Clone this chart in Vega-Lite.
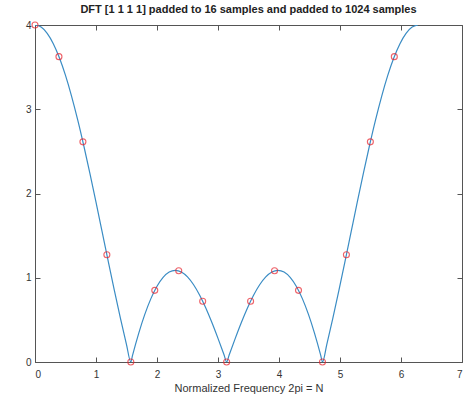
{
  "$schema": "https://vega.github.io/schema/vega-lite/v6.json",
  "width": 427,
  "height": 337,
  "autosize": "none",
  "padding": {"left": 35, "top": 25, "right": 12, "bottom": 36},
  "background": "white",
  "config": {
    "font": "Liberation Sans",
    "view": {"stroke": "#555555", "strokeWidth": 1},
    "axis": {"grid": false, "domainColor": "#555555", "tickColor": "#555555", "labelColor": "#333333", "labelFontSize": 10, "tickSize": -5, "titleFontWeight": "normal", "titleFontSize": 11, "titleColor": "#333333"}
  },
  "title": {"text": "DFT [1 1 1 1] padded to 16 samples and padded to 1024 samples", "fontSize": 11, "fontWeight": "bold", "color": "#222222", "offset": 5, "anchor": "middle"},
  "datasets": {
    "curve": [
      {"w": 0, "m": 4}, {"w": 0.1, "m": 3.975}, {"w": 0.2, "m": 3.9007}, {"w": 0.3, "m": 3.7784}, {"w": 0.4, "m": 3.6108}, {"w": 0.5, "m": 3.4013}, {"w": 0.6, "m": 3.1539}, {"w": 0.7, "m": 2.8739}, {"w": 0.8, "m": 2.5668}, {"w": 0.9, "m": 2.2389}, {"w": 1.0, "m": 1.8966}, {"w": 1.1, "m": 1.5468}, {"w": 1.2, "m": 1.1963}, {"w": 1.3, "m": 0.8518}, {"w": 1.4, "m": 0.52}, {"w": 1.5, "m": 0.207}, {"w": 1.5708, "m": 0}, {"w": 1.6, "m": 0.0814}, {"w": 1.7, "m": 0.3401}, {"w": 1.8, "m": 0.5649}, {"w": 1.9, "m": 0.7522}, {"w": 2.0, "m": 0.8994}, {"w": 2.1, "m": 1.0048}, {"w": 2.2, "m": 1.0678}, {"w": 2.3, "m": 1.0887}, {"w": 2.4, "m": 1.0688}, {"w": 2.5, "m": 1.0105}, {"w": 2.6, "m": 0.9169}, {"w": 2.7, "m": 0.792}, {"w": 2.8, "m": 0.6406}, {"w": 2.9, "m": 0.468}, {"w": 3.0, "m": 0.2801}, {"w": 3.1, "m": 0.0831}, {"w": 3.1416, "m": 0},
      {"w": 3.183, "m": 0.0831}, {"w": 3.283, "m": 0.2801}, {"w": 3.383, "m": 0.468}, {"w": 3.483, "m": 0.6406}, {"w": 3.583, "m": 0.792}, {"w": 3.683, "m": 0.9169}, {"w": 3.783, "m": 1.0105}, {"w": 3.883, "m": 1.0688}, {"w": 3.983, "m": 1.0887}, {"w": 4.083, "m": 1.0678}, {"w": 4.183, "m": 1.0048}, {"w": 4.283, "m": 0.8994}, {"w": 4.383, "m": 0.7522}, {"w": 4.483, "m": 0.5649}, {"w": 4.583, "m": 0.3401}, {"w": 4.683, "m": 0.0814}, {"w": 4.7124, "m": 0}, {"w": 4.783, "m": 0.207}, {"w": 4.883, "m": 0.52}, {"w": 4.983, "m": 0.8518}, {"w": 5.083, "m": 1.1963}, {"w": 5.183, "m": 1.5468}, {"w": 5.283, "m": 1.8966}, {"w": 5.383, "m": 2.2389}, {"w": 5.483, "m": 2.5668}, {"w": 5.583, "m": 2.8739}, {"w": 5.683, "m": 3.1539}, {"w": 5.783, "m": 3.4013}, {"w": 5.883, "m": 3.6108}, {"w": 5.983, "m": 3.7784}, {"w": 6.083, "m": 3.9007}, {"w": 6.183, "m": 3.975}, {"w": 6.277, "m": 4}
    ],
    "samples": [
      {"w": 0, "m": 4}, {"w": 0.3927, "m": 3.6245}, {"w": 0.7854, "m": 2.6131}, {"w": 1.1781, "m": 1.2728}, {"w": 1.5708, "m": 0}, {"w": 1.9635, "m": 0.8504}, {"w": 2.3562, "m": 1.0824}, {"w": 2.7489, "m": 0.721}, {"w": 3.1416, "m": 0}, {"w": 3.5343, "m": 0.721}, {"w": 3.927, "m": 1.0824}, {"w": 4.3197, "m": 0.8504}, {"w": 4.7124, "m": 0}, {"w": 5.1051, "m": 1.2728}, {"w": 5.4978, "m": 2.6131}, {"w": 5.8905, "m": 3.6245}
    ]
  },
  "layer": [
    {
      "data": {"name": "curve"},
      "mark": {"type": "line", "color": "#3a8cc4", "strokeWidth": 1.2, "interpolate": "monotone", "clip": true},
      "encoding": {
        "x": {"field": "w", "type": "quantitative", "scale": {"domain": [0, 7], "nice": false}, "axis": {"orient": "bottom", "values": [0,1,2,3,4,5,6,7], "title": "Normalized Frequency 2pi = N", "labelPadding": 12, "titlePadding": 3}},
        "y": {"field": "m", "type": "quantitative", "scale": {"domain": [0, 4], "nice": false}, "axis": {"orient": "left", "values": [0,1,2,3,4], "title": null, "labelPadding": 9}}
      }
    },
    {
      "data": {"name": "samples"},
      "mark": {"type": "point", "shape": "circle", "filled": false, "color": "#e8202a", "size": 36, "strokeWidth": 1.1, "clip": false},
      "encoding": {
        "x": {"field": "w", "type": "quantitative", "axis": {"orient": "top", "values": [0,1,2,3,4,5,6,7], "labels": false, "title": null, "domain": false}},
        "y": {"field": "m", "type": "quantitative", "axis": {"orient": "right", "values": [0,1,2,3,4], "labels": false, "title": null, "domain": false}}
      }
    }
  ],
  "resolve": {"axis": {"x": "independent", "y": "independent"}}
}
